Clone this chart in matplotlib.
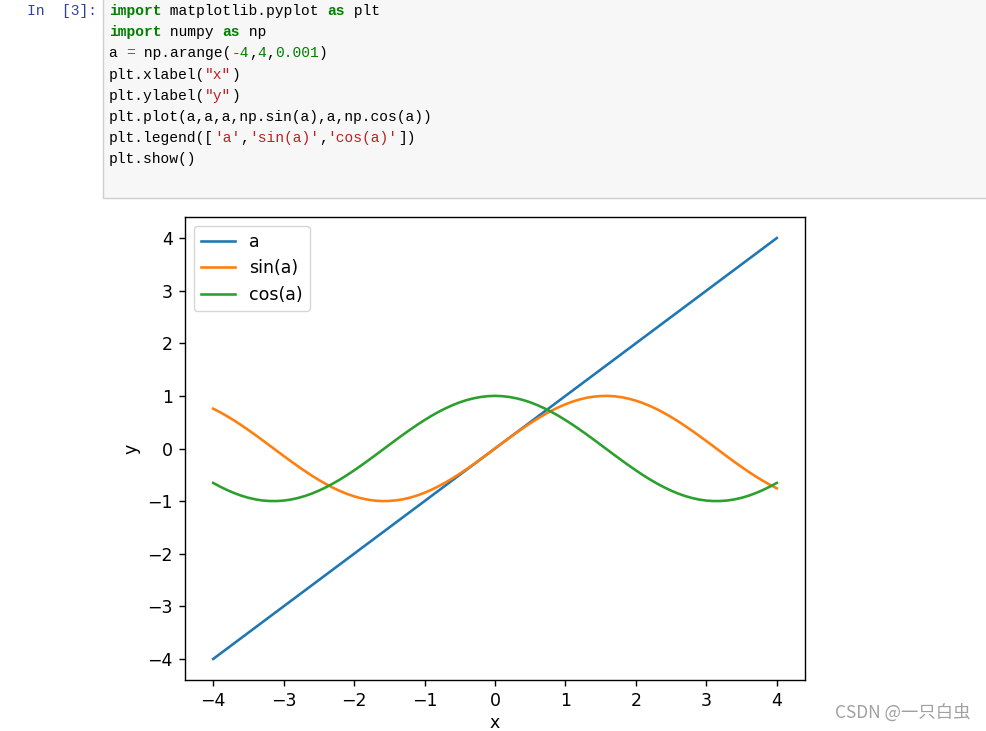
import matplotlib
matplotlib.use("Agg")
import matplotlib.pyplot as plt
from matplotlib.patches import Rectangle

W, H = 987, 731

# ---- data ----
x_vals = [-4.0, -3.9, -3.8, -3.7, -3.6, -3.5, -3.4, -3.3, -3.2, -3.1,
          -3.0, -2.9, -2.8, -2.7, -2.6, -2.5, -2.4, -2.3, -2.2, -2.1,
          -2.0, -1.9, -1.8, -1.7, -1.6, -1.5, -1.4, -1.3, -1.2, -1.1,
          -1.0, -0.9, -0.8, -0.7, -0.6, -0.5, -0.4, -0.3, -0.2, -0.1,
          0.0, 0.1, 0.2, 0.3, 0.4, 0.5, 0.6, 0.7, 0.8, 0.9,
          1.0, 1.1, 1.2, 1.3, 1.4, 1.5, 1.6, 1.7, 1.8, 1.9,
          2.0, 2.1, 2.2, 2.3, 2.4, 2.5, 2.6, 2.7, 2.8, 2.9,
          3.0, 3.1, 3.2, 3.3, 3.4, 3.5, 3.6, 3.7, 3.8, 3.9, 4.0]
a_vals = [-4.0, -3.9, -3.8, -3.7, -3.6, -3.5, -3.4, -3.3, -3.2, -3.1,
          -3.0, -2.9, -2.8, -2.7, -2.6, -2.5, -2.4, -2.3, -2.2, -2.1,
          -2.0, -1.9, -1.8, -1.7, -1.6, -1.5, -1.4, -1.3, -1.2, -1.1,
          -1.0, -0.9, -0.8, -0.7, -0.6, -0.5, -0.4, -0.3, -0.2, -0.1,
          0.0, 0.1, 0.2, 0.3, 0.4, 0.5, 0.6, 0.7, 0.8, 0.9,
          1.0, 1.1, 1.2, 1.3, 1.4, 1.5, 1.6, 1.7, 1.8, 1.9,
          2.0, 2.1, 2.2, 2.3, 2.4, 2.5, 2.6, 2.7, 2.8, 2.9,
          3.0, 3.1, 3.2, 3.3, 3.4, 3.5, 3.6, 3.7, 3.8, 3.9, 4.0]
sin_vals = [0.757, 0.688, 0.612, 0.530, 0.443, 0.351, 0.256, 0.158, 0.058, -0.042,
            -0.141, -0.239, -0.335, -0.427, -0.516, -0.598, -0.675, -0.746, -0.808, -0.863,
            -0.909, -0.946, -0.974, -0.992, -1.000, -0.997, -0.985, -0.964, -0.932, -0.891,
            -0.841, -0.783, -0.717, -0.644, -0.565, -0.479, -0.389, -0.296, -0.199, -0.100,
            0.000, 0.100, 0.199, 0.296, 0.389, 0.479, 0.565, 0.644, 0.717, 0.783,
            0.841, 0.891, 0.932, 0.964, 0.985, 0.997, 1.000, 0.992, 0.974, 0.946,
            0.909, 0.863, 0.808, 0.746, 0.675, 0.598, 0.516, 0.427, 0.335, 0.239,
            0.141, 0.042, -0.058, -0.158, -0.256, -0.351, -0.443, -0.530, -0.612, -0.688,
            -0.757]
cos_vals = [-0.654, -0.726, -0.791, -0.848, -0.897, -0.937, -0.967, -0.988, -0.998, -0.999,
            -0.990, -0.971, -0.942, -0.904, -0.857, -0.801, -0.737, -0.666, -0.589, -0.505,
            -0.416, -0.323, -0.227, -0.129, -0.029, 0.071, 0.170, 0.268, 0.362, 0.454,
            0.540, 0.622, 0.697, 0.765, 0.825, 0.878, 0.921, 0.955, 0.980, 0.995,
            1.000, 0.995, 0.980, 0.955, 0.921, 0.878, 0.825, 0.765, 0.697, 0.622,
            0.540, 0.454, 0.362, 0.268, 0.170, 0.071, -0.029, -0.129, -0.227, -0.323,
            -0.416, -0.505, -0.589, -0.666, -0.737, -0.801, -0.857, -0.904, -0.942, -0.971,
            -0.990, -0.999, -0.998, -0.988, -0.967, -0.937, -0.897, -0.848, -0.791, -0.726,
            -0.654]
legend_labels = ['a', 'sin(a)', 'cos(a)']
xticks = [-4, -3, -2, -1, 0, 1, 2, 3, 4]
yticks = [-4, -3, -2, -1, 0, 1, 2, 3, 4]

# ---- code cell text ----
GB, K, P, G, R = 'gb', 'k', 'p', 'g', 'r'
code_lines = [
    [("import", GB), (" matplotlib.pyplot ", K), ("as", GB), (" plt", K)],
    [("import", GB), (" numpy ", K), ("as", GB), (" np", K)],
    [("a ", K), ("=", P), (" np.arange(", K), ("-4", G), (",", K), ("4", G), (",", K), ("0.001", G), (")", K)],
    [("plt.xlabel(", K), ('"x"', R), (")", K)],
    [("plt.ylabel(", K), ('"y"', R), (")", K)],
    [("plt.plot(a,a,a,np.sin(a),a,np.cos(a))", K)],
    [("plt.legend([", K), ("'a'", R), (",", K), ("'sin(a)'", R), (",", K), ("'cos(a)'", R), ("])", K)],
    [("plt.show()", K)],
]
styles = {
    GB: dict(color='#008000', fontweight='bold'),
    K: dict(color='#000000'),
    P: dict(color='#AA22FF'),
    G: dict(color='#008000'),
    R: dict(color='#BA2121'),
}

fig = plt.figure(figsize=(W / 100, H / 100), dpi=100)
fig.patch.set_facecolor('white')


def fx(px):
    return px / W


def fy(py):
    return 1 - py / H


# code cell box
fig.patches.append(Rectangle((fx(103), fy(198)), fx(1000) - fx(103), fy(-5) - fy(198),
                             transform=fig.transFigure, facecolor='#f7f7f7',
                             edgecolor='#cfcfcf', linewidth=1.0, zorder=0))

fig.text(fx(27), fy(11), "In  [3]:", color='#303F9F', fontsize=10.5,
         family='Liberation Mono', va='center', ha='left')

char_w = 0.6 * 10.5 * 100 / 72
line_y0, line_dy = 11, 21.2
for i, segs in enumerate(code_lines):
    col = 0
    for txt, st in segs:
        fig.text(fx(109 + col * char_w), fy(line_y0 + i * line_dy), txt,
                 fontsize=10.5, family='Liberation Mono', va='center', ha='left',
                 **styles[st])
        col += len(txt)

# ---- chart ----
ax = fig.add_axes([fx(185), fy(680), fx(805) - fx(185), fy(217) - fy(680)])
lw = 1.875
ax.plot(x_vals, a_vals, color='#1f77b4', lw=lw)
ax.plot(x_vals, sin_vals, color='#ff7f0e', lw=lw)
ax.plot(x_vals, cos_vals, color='#2ca02c', lw=lw)
ax.set_xlim(-4.4, 4.4)
ax.set_ylim(-4.4, 4.4)
ax.set_xticks(xticks)
ax.set_yticks(yticks)
ax.tick_params(labelsize=12.5, length=4.4, width=1.0, pad=4.4)
for s in ax.spines.values():
    s.set_linewidth(1.0)
ax.set_xlabel("x", fontsize=12.5, labelpad=3)
ax.set_ylabel("y", fontsize=12.5, labelpad=5)
ax.legend(legend_labels, fontsize=12.5, loc='upper left')

fig.text(fx(835), fy(713), "CSDN @一只白虫", color='#a0a0a0', fontsize=12.5,
         family=['Noto Sans CJK SC', 'DejaVu Sans'], va='center', ha='left')

fig.savefig("out.png", dpi=100)
